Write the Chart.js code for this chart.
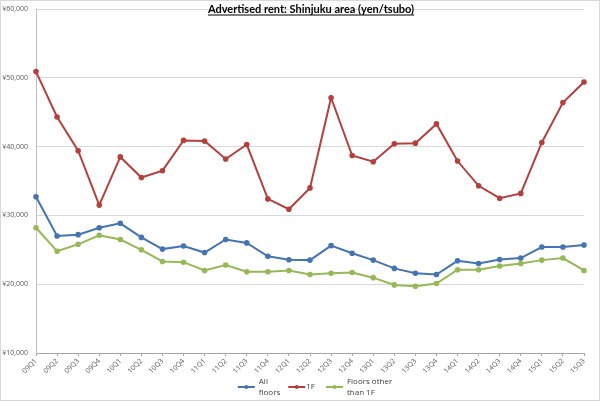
<!DOCTYPE html>
<html>
<head>
<meta charset="utf-8">
<script src="https://cdn.jsdelivr.net/npm/chart.js@4/dist/chart.umd.min.js"></script>
<style>
  html, body { margin: 0; padding: 0; background: #fff; }
  #wrap { width: 600px; height: 402px; position: relative; }
</style>
</head>
<body>
<div id="wrap"><canvas id="rentChart"></canvas></div>
<script>
const quarters = ["09Q1","09Q2","09Q3","09Q4","10Q1","10Q2","10Q3","10Q4","11Q1","11Q2","11Q3","11Q4",
  "12Q1","12Q2","12Q3","12Q4","13Q1","13Q2","13Q3","13Q4","14Q1","14Q2","14Q3","14Q4","15Q1","15Q2","15Q3"];

const allFloors = [32700, 27000, 27200, 28200, 28850, 26800, 25100, 25550, 24600, 26500, 26000, 24050,
  23550, 23500, 25600, 24500, 23500, 22300, 21600, 21400, 23400, 23000, 23600, 23800, 25400, 25400, 25700];

const firstFloor = [50900, 44300, 39400, 31500, 38500, 35500, 36500, 40900, 40800, 38200, 40300, 32400,
  30900, 34000, 47100, 38700, 37800, 40400, 40500, 43300, 37900, 34300, 32500, 33200, 40600, 46400, 49400];

const otherFloors = [28200, 24800, 25800, 27100, 26500, 25000, 23300, 23200, 22000, 22800, 21800, 21800,
  22000, 21400, 21600, 21700, 20950, 19900, 19700, 20100, 22100, 22100, 22650, 23000, 23500, 23800, 22000];

const yTicks = [10000, 20000, 30000, 40000, 50000, 60000];
const titleText = "Advertised rent: Shinjuku area (yen/tsubo)";

const ctx = document.getElementById("rentChart").getContext("2d");

function series(label, data, color) {
  return {
    label,
    data,
    borderColor: color,
    backgroundColor: color,
    borderWidth: 2,
    pointRadius: 1.8,
    pointHoverRadius: 1.8,
    tension: 0,
  };
}

// title (underlined) + legend with wrapped labels + outer frame
const decorations = {
  id: "decorations",
  afterDraw(chart) {
    const c = chart.ctx;
    const area = chart.chartArea;
    c.save();

    // frame
    c.strokeStyle = "#d9d9d9";
    c.lineWidth = 1;
    c.strokeRect(0.5, 0.5, chart.width - 1, chart.height - 2);

    // title
    c.font = "bold 11px Lato";
    c.fillStyle = "#000";
    c.textAlign = "center";
    c.textBaseline = "alphabetic";
    const cx = (area.left + area.right) / 2 + 1;
    c.fillText(titleText, cx, 13);
    const tw = c.measureText(titleText).width;
    c.fillRect(cx - tw / 2, 14.5, tw, 1);

    // legend
    const items = [
      { lines: ["All", "floors"], color: chart.data.datasets[0].borderColor },
      { lines: ["1F"], color: chart.data.datasets[1].borderColor },
      { lines: ["Floors other", "than 1F"], color: chart.data.datasets[2].borderColor },
    ];
    c.font = "8px 'Open Sans'";
    c.textAlign = "left";
    c.textBaseline = "middle";
    const lineW = 17, gap = 4, itemGap = 8;
    const widths = items.map(it => lineW + gap + Math.max(...it.lines.map(l => c.measureText(l).width)));
    const total = widths.reduce((a, b) => a + b, 0) + itemGap * (items.length - 1);
    let x = 315 - total / 2;
    const ly = 387;
    items.forEach((it, i) => {
      c.strokeStyle = it.color;
      c.fillStyle = it.color;
      c.lineWidth = 2;
      c.beginPath();
      c.moveTo(x, ly);
      c.lineTo(x + lineW, ly);
      c.stroke();
      c.beginPath();
      c.arc(x + lineW / 2, ly, 2, 0, Math.PI * 2);
      c.fill();
      c.fillStyle = "#404040";
      if (it.lines.length === 1) {
        c.fillText(it.lines[0], x + lineW + 1, ly);
      } else {
        c.fillText(it.lines[0], x + lineW + gap, ly - 5.5);
        c.fillText(it.lines[1], x + lineW + gap, ly + 5.5);
      }
      x += widths[i] + itemGap;
    });
    c.restore();
  },
};

new Chart(ctx, {
  type: "line",
  data: {
    labels: quarters,
    datasets: [
      series("All floors", allFloors, "#4673B1"),
      series("1F", firstFloor, "#B4403E"),
      series("Floors other than 1F", otherFloors, "#97B856"),
    ],
  },
  options: {
    responsive: true,
    maintainAspectRatio: false,
    animation: false,
    layout: { padding: { top: 9, right: 16, left: 0, bottom: 0 } },
    plugins: {
      legend: { display: false },
      title: { display: false },
      tooltip: { enabled: false },
    },
    scales: {
      x: {
        offset: false,
        afterFit: (s) => { s.height = 49; s.paddingLeft = 0; s.paddingRight = 0; },
        grid: {
          display: true,
          drawOnChartArea: false,
          drawTicks: true,
          tickLength: 3,
          color: "#a6a6a6",
        },
        border: { color: "#a6a6a6" },
        ticks: {
          autoSkip: false,
          maxRotation: 45,
          minRotation: 45,
          padding: 1,
          color: "#595959",
          font: { family: "'Open Sans'", size: 7 },
        },
      },
      y: {
        min: 10000,
        max: 60000,
        afterFit: (s) => { s.width = 36; s.paddingTop = 0; s.paddingBottom = 0; },
        afterBuildTicks: (s) => { s.ticks = yTicks.map(v => ({ value: v })); },
        grid: { color: "#d9d9d9", drawTicks: false },
        border: { color: "#bfbfbf" },
        ticks: {
          padding: 8,
          color: "#595959",
          font: { family: "'Open Sans'", size: 7 },
          callback: (v) => "¥" + v.toLocaleString("en-US"),
        },
      },
    },
  },
  plugins: [decorations],
});
</script>
</body>
</html>
